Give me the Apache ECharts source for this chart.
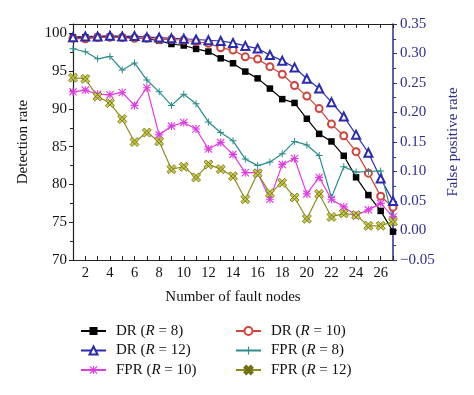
<!DOCTYPE html>
<html>
<head>
<meta charset="utf-8">
<script src="https://cdn.jsdelivr.net/npm/echarts@6/dist/echarts.min.js"></script>
<style>
html,body{margin:0;padding:0;background:#fff;}
#c{width:474px;height:395px;}
</style>
</head>
<body>
<div id="c"></div>
<script>
// ---- data ----
var nodes = [1,2,3,4,5,6,7,8,9,10,11,12,13,14,15,16,17,18,19,20,21,22,23,24,25,26,27];
var xTickLabels = [2,4,6,8,10,12,14,16,18,20,22,24,26];
var drR8  = [99.5,99.5,99.55,99.55,99.5,99.4,99.3,99.05,98.6,98.4,97.95,97.6,96.7,96.05,94.95,94.05,92.7,91.3,90.8,88.7,86.7,85.7,83.8,80.95,78.6,76.5,73.75];
var drR10 = [99.35,99.3,99.45,99.5,99.45,99.35,99.35,99.2,99.2,99.1,98.9,98.7,98.1,97.8,96.9,96.6,95.6,94.6,93.1,91.7,90.05,88.0,86.45,84.35,81.5,78.45,77.0];
var drR12 = [99.5,99.6,99.6,99.7,99.6,99.65,99.5,99.45,99.35,99.3,99.2,99.1,99.0,98.75,98.35,98.0,97.15,96.4,95.5,94.0,92.7,90.9,89.0,86.6,84.2,80.8,77.8];
var fprR8  = [0.308,0.303,0.291,0.295,0.272,0.284,0.255,0.235,0.212,0.231,0.215,0.184,0.166,0.152,0.121,0.110,0.116,0.130,0.151,0.145,0.127,0.056,0.108,0.099,0.100,0.101,0.018];
var fprR10 = [0.235,0.238,0.231,0.230,0.234,0.212,0.242,0.162,0.177,0.183,0.172,0.138,0.149,0.129,0.098,0.098,0.053,0.112,0.122,0.062,0.090,0.053,0.040,0.026,0.035,0.046,0.023];
var fprR12 = [0.259,0.257,0.227,0.216,0.189,0.150,0.166,0.151,0.104,0.108,0.090,0.112,0.104,0.092,0.053,0.097,0.063,0.081,0.056,0.020,0.062,0.023,0.029,0.026,0.008,0.008,0.015];
var seriesNames = ['DR (R = 8)','DR (R = 10)','DR (R = 12)','FPR (R = 8)','FPR (R = 10)','FPR (R = 12)'];

function pairs(xs, ys){ return xs.map(function(x,i){ return [x, ys[i]]; }); }

var FONT = 'Liberation Serif';
var NAVY = '#2d2d8c';
var symPlus = 'path://M4.3,0H5.7V4.3H10V5.7H5.7V10H4.3V5.7H0V4.3H4.3Z';
var symAst = 'path://M0,4.3H10V5.7H0Z M4.3,0H5.7V10H4.3Z M1,0L10,9L9,10L0,1Z M9,0L10,1L1,10L0,9Z';
var symX = 'path://M0,2.2L2.2,0L10,7.8L7.8,10Z M7.8,0L10,2.2L2.2,10L0,7.8Z';

var chart = echarts.init(document.getElementById('c'), null, {renderer:'canvas'});

function legendFmt(n){ return n.replace('(R', '({i|R}'); }
var legendText = {
  fontFamily: FONT, fontSize: 15, color: '#111', lineHeight: 16, padding:[0,0,0,5],
  rich: { i: { fontFamily: FONT, fontSize: 15, fontStyle: 'italic', color: '#111' } }
};

var option = {
  animation: false,
  backgroundColor: '#fff',
  grid: { left: 73, right: 81, top: 24, bottom: 135 },
  legend: [
    { orient: 'vertical', left: 75, top: 318, itemWidth: 25, itemHeight: 10, itemGap: 3.5,
      data: [seriesNames[0], seriesNames[2], seriesNames[4]], formatter: legendFmt, textStyle: legendText },
    { orient: 'vertical', left: 230, top: 318, itemWidth: 25, itemHeight: 10, itemGap: 3.5,
      data: [seriesNames[1], seriesNames[3], seriesNames[5]], formatter: legendFmt, textStyle: legendText }
  ],
  xAxis: [
    { type: 'value', min: 1, max: 27, interval: 1, position: 'bottom',
      name: 'Number of fault nodes', nameLocation: 'middle', nameGap: 30,
      nameTextStyle: { fontFamily: FONT, fontSize: 15, color: '#111' },
      axisLine: { onZero: false, lineStyle: { color: '#222', width: 1.2 } },
      axisTick: { inside: true, length: 4, lineStyle: { color: '#222' } },
      axisLabel: { fontFamily: FONT, fontSize: 14.5, color: '#111', margin: 6,
        formatter: function(v){ return xTickLabels.indexOf(v) >= 0 ? String(v) : ''; } },
      splitLine: { show: false } },
    { type: 'value', min: 1, max: 27, interval: 1, position: 'top',
      axisLine: { onZero: false, lineStyle: { color: '#222', width: 1.2 } },
      axisTick: { inside: true, length: 4, lineStyle: { color: '#222' } },
      axisLabel: { show: false }, splitLine: { show: false } }
  ],
  yAxis: [
    { type: 'value', min: 70, max: 101.25, interval: 5, position: 'left',
      name: 'Detection rate', nameLocation: 'middle', nameGap: 42,
      nameTextStyle: { fontFamily: FONT, fontSize: 15, color: '#111' },
      axisLine: { show: true, onZero: false, lineStyle: { color: '#222', width: 1.2 } },
      axisTick: { show: true, inside: false, length: 4, lineStyle: { color: '#222' } },
      minorTick: { show: true, splitNumber: 2, length: 3, lineStyle: { color: '#222' } },
      axisLabel: { fontFamily: FONT, fontSize: 15, color: '#111', margin: 6, showMaxLabel: false },
      splitLine: { show: false } },
    { type: 'value', min: -0.05, max: 0.35, interval: 0.05, position: 'right',
      name: 'False positive rate', nameLocation: 'middle', nameGap: 52, nameRotate: 90,
      nameTextStyle: { fontFamily: FONT, fontSize: 15, color: NAVY },
      axisLine: { show: true, onZero: false, lineStyle: { color: NAVY, width: 1.5 } },
      axisTick: { show: true, inside: false, length: 4, lineStyle: { color: NAVY } },
      minorTick: { show: true, splitNumber: 2, length: 3, lineStyle: { color: NAVY } },
      axisLabel: { fontFamily: FONT, fontSize: 15, color: NAVY, margin: 7,
        formatter: function(v){ return v.toFixed(2).replace('-', '\u2212'); } },
      splitLine: { show: false } }
  ],
  series: [
    { name: seriesNames[0], type: 'line', yAxisIndex: 0, data: pairs(nodes, drR8),
      symbol: 'rect', symbolSize: 6.5, lineStyle: { color: '#000', width: 1.2 },
      itemStyle: { color: '#000' } },
    { name: seriesNames[1], type: 'line', yAxisIndex: 0, data: pairs(nodes, drR10),
      symbol: 'emptyCircle', symbolSize: 7, lineStyle: { color: '#d0453b', width: 1.2 },
      itemStyle: { color: '#d0453b', borderColor: '#d0453b', borderWidth: 1 } },
    { name: seriesNames[2], type: 'line', yAxisIndex: 0, data: pairs(nodes, drR12),
      symbol: 'emptyTriangle', symbolSize: 8, lineStyle: { color: '#2a2ab0', width: 1.2 },
      itemStyle: { color: '#2a2ab0', borderColor: '#2a2ab0', borderWidth: 1 } },
    { name: seriesNames[3], type: 'line', yAxisIndex: 1, data: pairs(nodes, fprR8),
      symbol: symPlus, symbolSize: 7, lineStyle: { color: '#2a8c8c', width: 1.2 },
      itemStyle: { color: '#2a8c8c' } },
    { name: seriesNames[4], type: 'line', yAxisIndex: 1, data: pairs(nodes, fprR10),
      symbol: symAst, symbolSize: 8, lineStyle: { color: '#e03ce0', width: 1.2 },
      itemStyle: { color: '#e03ce0' } },
    { name: seriesNames[5], type: 'line', yAxisIndex: 1, data: pairs(nodes, fprR12),
      symbol: symX, symbolSize: 9, lineStyle: { color: '#8c8c1e', width: 1.2 },
      itemStyle: { color: '#c9c94a', borderColor: '#6e6e10', borderWidth: 0.8 } }
  ]
};
chart.setOption(option);
</script>
</body>
</html>
